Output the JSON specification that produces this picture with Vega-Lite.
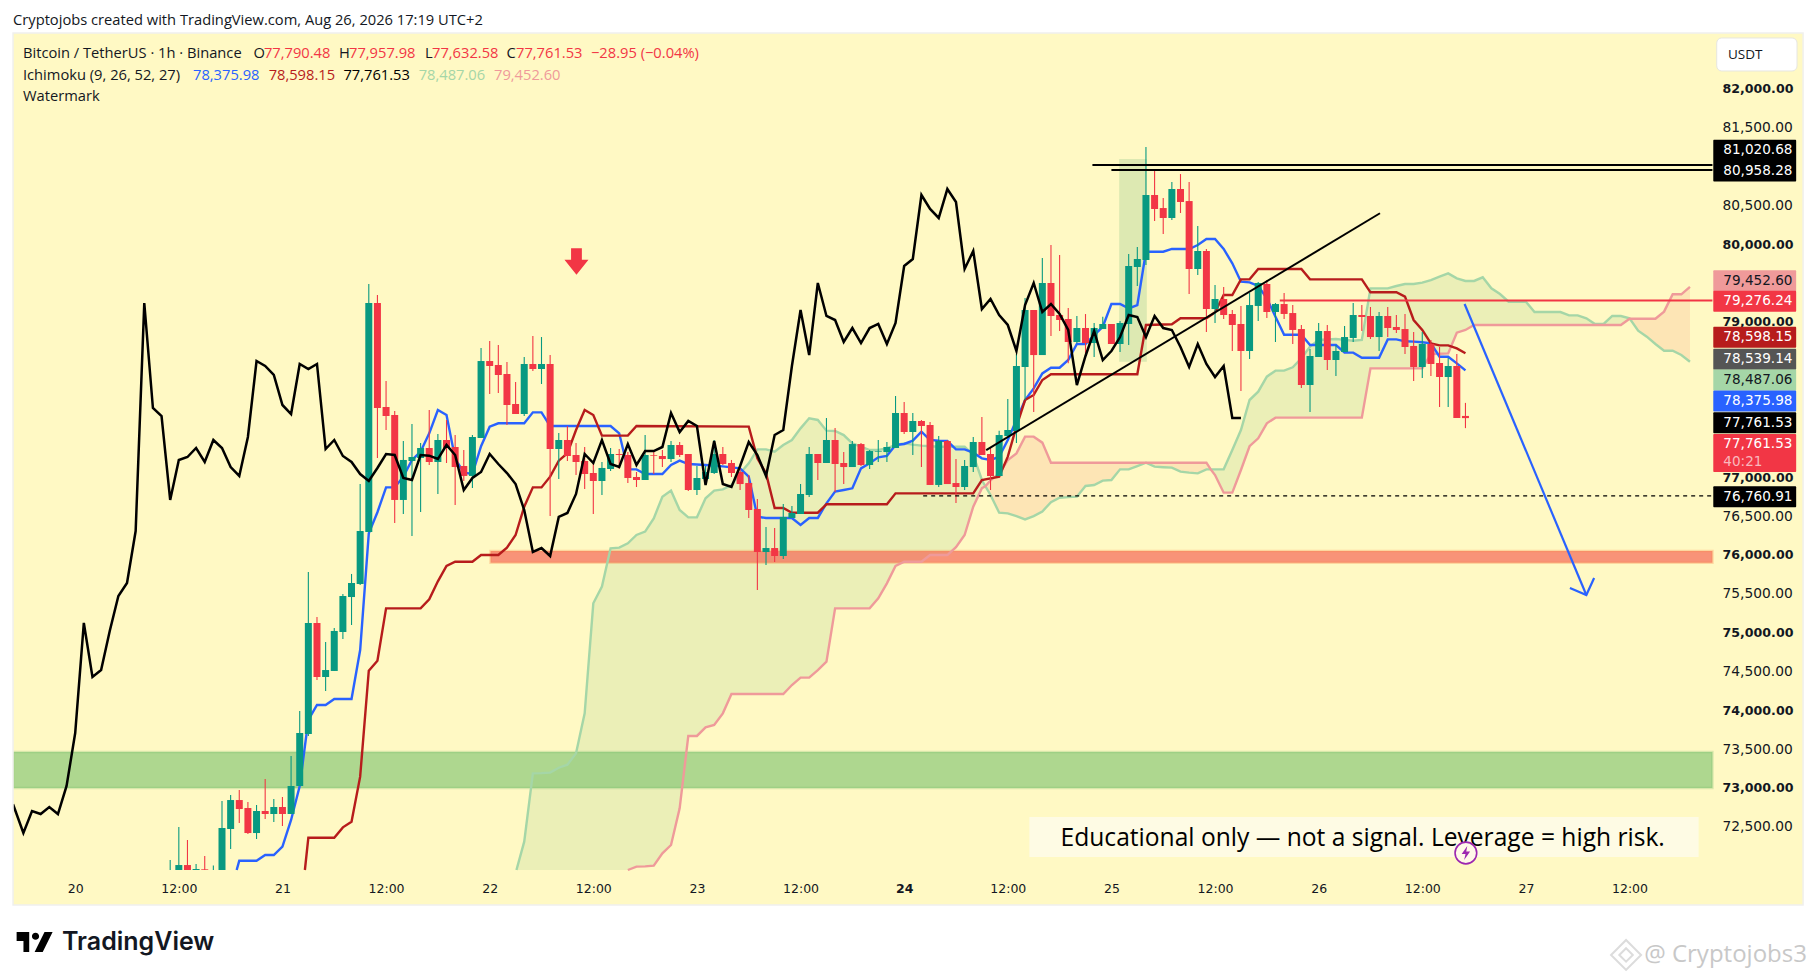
{
"$schema":"https://vega.github.io/schema/vega-lite/v6.json",
"width":1815,"height":980,"padding":0,"autosize":{"type":"none"},
"background":"#ffffff",
"view":{"fill":"#fff9c4","stroke":null},
"resolve":{"scale":{"color":"independent"}},
"config":{"text":{"font":"Open Sans"}},
"datasets":{
"candles":[
{"h":11,"o":71943,"c":71943,"hi":72072,"lo":71943},
{"h":12,"o":71943,"c":72007,"hi":72497,"lo":71943},
{"h":13,"o":72007,"c":71943,"hi":72329,"lo":71943},
{"h":14,"o":71943,"c":71956,"hi":72020,"lo":71943},
{"h":15,"o":71956,"c":71947,"hi":72123,"lo":71943},
{"h":16,"o":71943,"c":71943,"hi":72000,"lo":71943},
{"h":17,"o":71943,"c":72484,"hi":72832,"lo":71943},
{"h":18,"o":72471,"c":72844,"hi":72909,"lo":72213},
{"h":19,"o":72844,"c":72728,"hi":72973,"lo":72548},
{"h":20,"o":72741,"c":72419,"hi":72819,"lo":72407},
{"h":21,"o":72419,"c":72703,"hi":72780,"lo":72342},
{"h":22,"o":72703,"c":72664,"hi":73115,"lo":72600},
{"h":23,"o":72664,"c":72754,"hi":72857,"lo":72561},
{"h":24,"o":72754,"c":72664,"hi":72883,"lo":72510},
{"h":25,"o":72664,"c":73025,"hi":73411,"lo":72664},
{"h":26,"o":73025,"c":73707,"hi":73990,"lo":73025},
{"h":27,"o":73694,"c":75124,"hi":75780,"lo":73669},
{"h":28,"o":75124,"c":74428,"hi":75201,"lo":74390},
{"h":29,"o":74428,"c":74518,"hi":74879,"lo":74248},
{"h":30,"o":74506,"c":75021,"hi":75059,"lo":74506},
{"h":31,"o":75008,"c":75471,"hi":75497,"lo":74918},
{"h":32,"o":75458,"c":75639,"hi":75755,"lo":75098},
{"h":33,"o":75626,"c":76308,"hi":76914,"lo":75613},
{"h":34,"o":76295,"c":79244,"hi":79489,"lo":76295},
{"h":35,"o":79244,"c":77892,"hi":79347,"lo":77248},
{"h":36,"o":77905,"c":77789,"hi":78240,"lo":77609},
{"h":37,"o":77802,"c":76708,"hi":77854,"lo":76411},
{"h":38,"o":76708,"c":77223,"hi":77467,"lo":76527},
{"h":39,"o":77210,"c":77261,"hi":77686,"lo":76244},
{"h":40,"o":77248,"c":77377,"hi":77441,"lo":76553},
{"h":41,"o":77377,"c":77197,"hi":77866,"lo":77158},
{"h":42,"o":77197,"c":77480,"hi":77557,"lo":76785},
{"h":43,"o":77480,"c":77377,"hi":77738,"lo":77184},
{"h":44,"o":77390,"c":77132,"hi":77544,"lo":76643},
{"h":45,"o":77145,"c":77017,"hi":77351,"lo":76952},
{"h":46,"o":77017,"c":77519,"hi":77544,"lo":76862},
{"h":47,"o":77506,"c":78497,"hi":78665,"lo":77506},
{"h":48,"o":78497,"c":78433,"hi":78755,"lo":78072},
{"h":49,"o":78446,"c":78317,"hi":78703,"lo":78085},
{"h":50,"o":78330,"c":77931,"hi":78484,"lo":77673},
{"h":51,"o":77944,"c":77815,"hi":78227,"lo":77815},
{"h":52,"o":77815,"c":78459,"hi":78549,"lo":77789},
{"h":53,"o":78459,"c":78394,"hi":78819,"lo":78369},
{"h":54,"o":78394,"c":78459,"hi":78806,"lo":78201},
{"h":55,"o":78459,"c":77364,"hi":78575,"lo":76502},
{"h":56,"o":77364,"c":77480,"hi":77570,"lo":76978},
{"h":57,"o":77480,"c":77274,"hi":77660,"lo":77210},
{"h":58,"o":77287,"c":77197,"hi":77441,"lo":77029},
{"h":59,"o":77210,"c":77042,"hi":77390,"lo":76849},
{"h":60,"o":77055,"c":76952,"hi":77197,"lo":76527},
{"h":61,"o":76952,"c":77120,"hi":77197,"lo":76772},
{"h":62,"o":77107,"c":77300,"hi":77377,"lo":77081},
{"h":63,"o":77300,"c":77287,"hi":77364,"lo":77107},
{"h":64,"o":77287,"c":76991,"hi":77326,"lo":76926},
{"h":65,"o":77004,"c":76965,"hi":77068,"lo":76875},
{"h":66,"o":76965,"c":77287,"hi":77544,"lo":76965},
{"h":67,"o":77287,"c":77278,"hi":77351,"lo":77042},
{"h":68,"o":77274,"c":77235,"hi":77351,"lo":77132},
{"h":69,"o":77235,"c":77416,"hi":77467,"lo":77197},
{"h":70,"o":77416,"c":77287,"hi":77454,"lo":77261},
{"h":71,"o":77300,"c":76836,"hi":77300,"lo":76823},
{"h":72,"o":76836,"c":76991,"hi":77145,"lo":76772},
{"h":73,"o":76978,"c":77068,"hi":77145,"lo":76901},
{"h":74,"o":77055,"c":77300,"hi":77480,"lo":77042},
{"h":75,"o":77300,"c":77171,"hi":77390,"lo":77158},
{"h":76,"o":77184,"c":77055,"hi":77223,"lo":77004},
{"h":77,"o":77068,"c":76913,"hi":77128,"lo":76836},
{"h":78,"o":76926,"c":76579,"hi":77029,"lo":76476},
{"h":79,"o":76592,"c":76038,"hi":76720,"lo":75549},
{"h":80,"o":76038,"c":76089,"hi":76360,"lo":75870},
{"h":81,"o":76089,"c":75986,"hi":76347,"lo":75909},
{"h":82,"o":75986,"c":76489,"hi":76656,"lo":75948},
{"h":83,"o":76476,"c":76540,"hi":76630,"lo":76476},
{"h":84,"o":76527,"c":76785,"hi":76913,"lo":76527},
{"h":85,"o":76772,"c":77300,"hi":77390,"lo":76746},
{"h":86,"o":77300,"c":77184,"hi":77300,"lo":76965},
{"h":87,"o":77184,"c":77480,"hi":77763,"lo":77184},
{"h":88,"o":77480,"c":77171,"hi":77634,"lo":76810},
{"h":89,"o":77184,"c":77132,"hi":77325,"lo":76913},
{"h":90,"o":77132,"c":77428,"hi":77467,"lo":77132},
{"h":91,"o":77428,"c":77158,"hi":77441,"lo":77145},
{"h":92,"o":77158,"c":77338,"hi":77351,"lo":77107},
{"h":93,"o":77330,"c":77338,"hi":77480,"lo":77197},
{"h":94,"o":77325,"c":77390,"hi":77454,"lo":77197},
{"h":95,"o":77377,"c":77828,"hi":78047,"lo":77377},
{"h":96,"o":77828,"c":77583,"hi":77969,"lo":77557},
{"h":97,"o":77583,"c":77725,"hi":77828,"lo":77287},
{"h":98,"o":77725,"c":77660,"hi":77738,"lo":77132},
{"h":99,"o":77673,"c":76901,"hi":77712,"lo":76901},
{"h":100,"o":76901,"c":77467,"hi":77531,"lo":76875},
{"h":101,"o":77467,"c":76913,"hi":77480,"lo":76913},
{"h":102,"o":76926,"c":76875,"hi":77235,"lo":76669},
{"h":103,"o":76875,"c":77145,"hi":77223,"lo":76836},
{"h":104,"o":77132,"c":77454,"hi":77519,"lo":77068},
{"h":105,"o":77454,"c":77287,"hi":77776,"lo":77287},
{"h":106,"o":77300,"c":77016,"hi":77390,"lo":76836},
{"h":107,"o":77016,"c":77544,"hi":77600,"lo":77016},
{"h":108,"o":77531,"c":77609,"hi":78008,"lo":77531},
{"h":109,"o":77596,"c":78433,"hi":78587,"lo":77441},
{"h":110,"o":78420,"c":79154,"hi":79308,"lo":77995},
{"h":111,"o":79154,"c":78574,"hi":79154,"lo":77841},
{"h":112,"o":78574,"c":79502,"hi":79824,"lo":78574},
{"h":113,"o":79502,"c":79077,"hi":79991,"lo":78819},
{"h":114,"o":79090,"c":79025,"hi":79862,"lo":78883},
{"h":115,"o":79038,"c":78742,"hi":79180,"lo":78467},
{"h":116,"o":78742,"c":78922,"hi":79077,"lo":78725},
{"h":117,"o":78922,"c":78729,"hi":79102,"lo":78587},
{"h":118,"o":78729,"c":78922,"hi":78987,"lo":78549},
{"h":119,"o":78909,"c":78974,"hi":79068,"lo":78909},
{"h":120,"o":78974,"c":78716,"hi":78974,"lo":78716},
{"h":121,"o":78716,"c":78987,"hi":79012,"lo":78613},
{"h":122,"o":78974,"c":79721,"hi":79875,"lo":78703},
{"h":123,"o":79708,"c":79811,"hi":79965,"lo":79463},
{"h":124,"o":79798,"c":80635,"hi":81253,"lo":79733},
{"h":125,"o":80635,"c":80455,"hi":80944,"lo":80300},
{"h":126,"o":80467,"c":80339,"hi":80596,"lo":80133},
{"h":127,"o":80339,"c":80712,"hi":80802,"lo":80313},
{"h":128,"o":80712,"c":80545,"hi":80905,"lo":80403},
{"h":129,"o":80557,"c":79682,"hi":80802,"lo":79360},
{"h":130,"o":79682,"c":79914,"hi":80236,"lo":79605},
{"h":131,"o":79914,"c":79167,"hi":79939,"lo":78871},
{"h":132,"o":79167,"c":79296,"hi":79476,"lo":78987},
{"h":133,"o":79296,"c":79090,"hi":79450,"lo":79038},
{"h":134,"o":79103,"c":78961,"hi":79154,"lo":78626},
{"h":135,"o":78974,"c":78626,"hi":79206,"lo":78111},
{"h":136,"o":78626,"c":79218,"hi":79373,"lo":78523},
{"h":137,"o":79206,"c":79502,"hi":79515,"lo":79012},
{"h":138,"o":79489,"c":79128,"hi":79540,"lo":79051},
{"h":139,"o":79128,"c":79231,"hi":79244,"lo":78742},
{"h":140,"o":79231,"c":79103,"hi":79373,"lo":79038},
{"h":141,"o":79115,"c":78897,"hi":79218,"lo":78716},
{"h":142,"o":78909,"c":78188,"hi":78961,"lo":78150},
{"h":143,"o":78188,"c":78562,"hi":78652,"lo":77841},
{"h":144,"o":78549,"c":78884,"hi":78987,"lo":78549},
{"h":145,"o":78884,"c":78510,"hi":78961,"lo":78382},
{"h":146,"o":78510,"c":78626,"hi":78703,"lo":78304},
{"h":147,"o":78613,"c":78806,"hi":78948,"lo":78613},
{"h":148,"o":78794,"c":79090,"hi":79244,"lo":78742},
{"h":149,"o":79090,"c":79064,"hi":79218,"lo":78884},
{"h":150,"o":79077,"c":78806,"hi":79193,"lo":78781},
{"h":151,"o":78806,"c":79077,"hi":79128,"lo":78626},
{"h":152,"o":79077,"c":78922,"hi":79193,"lo":78806},
{"h":153,"o":78935,"c":78897,"hi":79090,"lo":78858},
{"h":154,"o":78909,"c":78678,"hi":79103,"lo":78588},
{"h":155,"o":78691,"c":78420,"hi":78871,"lo":78240},
{"h":156,"o":78420,"c":78716,"hi":78871,"lo":78278},
{"h":157,"o":78716,"c":78459,"hi":78768,"lo":78304},
{"h":158,"o":78472,"c":78291,"hi":78678,"lo":77905},
{"h":159,"o":78291,"c":78433,"hi":78536,"lo":77905},
{"h":160,"o":78433,"c":77763,"hi":78588,"lo":77763},
{"h":161,"o":77790,"c":77762,"hi":77958,"lo":77633}
],
"chikou":[
{"h":-7.2,"p":72790},{"h":-7,"p":72728},{"h":-6,"p":72419},{"h":-5,"p":72703},{"h":-4,"p":72664},{"h":-3,"p":72754},{"h":-2,"p":72664},{"h":-1,"p":73025},{"h":0,"p":73707},{"h":1,"p":75124},{"h":2,"p":74428},{"h":3,"p":74518},{"h":4,"p":75021},{"h":5,"p":75471},{"h":6,"p":75639},{"h":7,"p":76308},{"h":8,"p":79244},{"h":9,"p":77892},{"h":10,"p":77789},{"h":11,"p":76708},{"h":12,"p":77223},{"h":13,"p":77261},{"h":14,"p":77377},{"h":15,"p":77197},{"h":16,"p":77480},{"h":17,"p":77377},{"h":18,"p":77132},{"h":19,"p":77017},{"h":20,"p":77519},{"h":21,"p":78497},{"h":22,"p":78433},{"h":23,"p":78317},{"h":24,"p":77931},{"h":25,"p":77815},{"h":26,"p":78459},{"h":27,"p":78394},{"h":28,"p":78459},{"h":29,"p":77364},{"h":30,"p":77480},{"h":31,"p":77274},{"h":32,"p":77197},{"h":33,"p":77042},{"h":34,"p":76952},{"h":35,"p":77120},{"h":36,"p":77300},{"h":37,"p":77287},{"h":38,"p":76991},{"h":39,"p":76965},{"h":40,"p":77287},{"h":41,"p":77278},{"h":42,"p":77235},{"h":43,"p":77416},{"h":44,"p":77287},{"h":45,"p":76836},{"h":46,"p":76991},{"h":47,"p":77068},{"h":48,"p":77300},{"h":49,"p":77171},{"h":50,"p":77055},{"h":51,"p":76913},{"h":52,"p":76579},{"h":53,"p":76038},{"h":54,"p":76089},{"h":55,"p":75986},{"h":56,"p":76489},{"h":57,"p":76540},{"h":58,"p":76785},{"h":59,"p":77300},{"h":60,"p":77184},{"h":61,"p":77480},{"h":62,"p":77171},{"h":63,"p":77132},{"h":64,"p":77428},{"h":65,"p":77158},{"h":66,"p":77338},{"h":67,"p":77338},{"h":68,"p":77390},{"h":69,"p":77828},{"h":70,"p":77583},{"h":71,"p":77725},{"h":72,"p":77660},{"h":73,"p":76901},{"h":74,"p":77467},{"h":75,"p":76913},{"h":76,"p":76875},{"h":77,"p":77145},{"h":78,"p":77454},{"h":79,"p":77287},{"h":80,"p":77016},{"h":81,"p":77544},{"h":82,"p":77609},{"h":83,"p":78433},{"h":84,"p":79154},{"h":85,"p":78574},{"h":86,"p":79502},{"h":87,"p":79077},{"h":88,"p":79025},{"h":89,"p":78742},{"h":90,"p":78922},{"h":91,"p":78729},{"h":92,"p":78922},{"h":93,"p":78974},{"h":94,"p":78716},{"h":95,"p":78987},{"h":96,"p":79721},{"h":97,"p":79811},{"h":98,"p":80635},{"h":99,"p":80455},{"h":100,"p":80339},{"h":101,"p":80712},{"h":102,"p":80545},{"h":103,"p":79682},{"h":104,"p":79914},{"h":105,"p":79167},{"h":106,"p":79296},{"h":107,"p":79090},{"h":108,"p":78961},{"h":109,"p":78626},{"h":110,"p":79218},{"h":111,"p":79502},{"h":112,"p":79128},{"h":113,"p":79231},{"h":114,"p":79103},{"h":115,"p":78897},{"h":116,"p":78188},{"h":117,"p":78562},{"h":118,"p":78884},{"h":119,"p":78510},{"h":120,"p":78626},{"h":121,"p":78806},{"h":122,"p":79090},{"h":123,"p":79064},{"h":124,"p":78806},{"h":125,"p":79077},{"h":126,"p":78922},{"h":127,"p":78897},{"h":128,"p":78678},{"h":129,"p":78420},{"h":130,"p":78716},{"h":131,"p":78459},{"h":132,"p":78291},{"h":133,"p":78433},{"h":134,"p":77763},{"h":135,"p":77762}
],
"tenkan":[
{"h":18.7,"p":71943},{"h":19,"p":72063},{"h":21,"p":72063},{"h":22,"p":72136},{"h":23,"p":72136},{"h":24,"p":72244},{"h":25,"p":72587},{"h":26,"p":73025},{"h":27,"p":73875},{"h":28,"p":74068},{"h":29,"p":74068},{"h":30,"p":74145},{"h":32,"p":74145},{"h":33,"p":74776},{"h":34,"p":76278},{"h":35,"p":76550},{"h":36,"p":76870},{"h":37,"p":76870},{"h":38,"p":77008},{"h":39,"p":77222},{"h":40,"p":77330},{"h":41,"p":77566},{"h":42,"p":77866},{"h":43,"p":77802},{"h":44,"p":77240},{"h":45,"p":77060},{"h":46,"p":77042},{"h":47,"p":77400},{"h":48,"p":77652},{"h":49,"p":77695},{"h":52,"p":77695},{"h":53,"p":77836},{"h":54,"p":77836},{"h":55,"p":77660},{"h":62,"p":77660},{"h":63,"p":77566},{"h":64,"p":77102},{"h":65,"p":77102},{"h":66,"p":77042},{"h":68,"p":77042},{"h":69,"p":77158},{"h":70,"p":77214},{"h":71,"p":77171},{"h":73,"p":77158},{"h":75,"p":77140},{"h":77,"p":77115},{"h":78,"p":77008},{"h":79,"p":76493},{"h":80,"p":76476},{"h":83,"p":76476},{"h":84,"p":76385},{"h":85,"p":76476},{"h":86,"p":76476},{"h":87,"p":76665},{"h":88,"p":76815},{"h":89,"p":76836},{"h":90,"p":76858},{"h":91,"p":77115},{"h":92,"p":77180},{"h":93,"p":77257},{"h":94,"p":77274},{"h":95,"p":77416},{"h":96,"p":77429},{"h":97,"p":77472},{"h":98,"p":77587},{"h":99,"p":77480},{"h":100,"p":77472},{"h":101,"p":77467},{"h":102,"p":77360},{"h":103,"p":77360},{"h":104,"p":77317},{"h":105,"p":77244},{"h":106,"p":77222},{"h":107,"p":77265},{"h":108,"p":77480},{"h":109,"p":77738},{"h":110,"p":77995},{"h":111,"p":78145},{"h":112,"p":78338},{"h":113,"p":78411},{"h":114,"p":78411},{"h":115,"p":78510},{"h":116,"p":78716},{"h":117,"p":78716},{"h":118,"p":78832},{"h":119,"p":78939},{"h":120,"p":79231},{"h":121,"p":79231},{"h":122,"p":79175},{"h":123,"p":79218},{"h":124,"p":79905},{"h":126,"p":79905},{"h":127,"p":79940},{"h":129,"p":79940},{"h":130,"p":79991},{"h":131,"p":80068},{"h":132,"p":80068},{"h":133,"p":79940},{"h":134,"p":79755},{"h":135,"p":79519},{"h":136,"p":79510},{"h":137,"p":79463},{"h":138,"p":79304},{"h":139,"p":79068},{"h":140,"p":78836},{"h":142,"p":78836},{"h":143,"p":78703},{"h":146,"p":78703},{"h":147,"p":78605},{"h":148,"p":78605},{"h":149,"p":78540},{"h":151,"p":78540},{"h":152,"p":78776},{"h":153,"p":78776},{"h":154,"p":78751},{"h":155,"p":78747},{"h":156,"p":78738},{"h":157,"p":78725},{"h":158,"p":78553},{"h":159,"p":78553},{"h":160,"p":78467},{"h":161,"p":78376}
],
"kijun":[
{"h":26.6,"p":71943},{"h":27,"p":72359},{"h":30,"p":72359},{"h":31,"p":72492},{"h":32,"p":72565},{"h":33,"p":73145},{"h":34,"p":74510},{"h":35,"p":74638},{"h":36,"p":75312},{"h":40,"p":75312},{"h":41,"p":75428},{"h":42,"p":75660},{"h":43,"p":75858},{"h":44,"p":75913},{"h":46,"p":75913},{"h":47,"p":75999},{"h":49,"p":75999},{"h":50,"p":76094},{"h":51,"p":76257},{"h":52,"p":76622},{"h":53,"p":76870},{"h":54,"p":76870},{"h":55,"p":77008},{"h":56,"p":77214},{"h":57,"p":77309},{"h":58,"p":77609},{"h":59,"p":77866},{"h":60,"p":77802},{"h":61,"p":77536},{"h":64,"p":77536},{"h":65,"p":77660},{"h":78,"p":77652},{"h":79,"p":77244},{"h":80,"p":77051},{"h":81,"p":76604},{"h":82,"p":76604},{"h":83,"p":76544},{"h":86,"p":76544},{"h":87,"p":76652},{"h":94,"p":76652},{"h":95,"p":76793},{"h":104,"p":76793},{"h":105,"p":76965},{"h":107,"p":77008},{"h":108,"p":77265},{"h":109,"p":77652},{"h":110,"p":77995},{"h":111,"p":78060},{"h":112,"p":78253},{"h":113,"p":78326},{"h":123,"p":78326},{"h":124,"p":78961},{"h":127,"p":78970},{"h":128,"p":79047},{"h":131,"p":79047},{"h":132,"p":79124},{"h":133,"p":79347},{"h":134,"p":79347},{"h":135,"p":79549},{"h":136,"p":79549},{"h":137,"p":79682},{"h":142,"p":79682},{"h":143,"p":79549},{"h":149,"p":79549},{"h":150,"p":79382},{"h":153,"p":79382},{"h":154,"p":79326},{"h":155,"p":79025},{"h":156,"p":78897},{"h":157,"p":78725},{"h":158,"p":78699},{"h":159,"p":78699},{"h":160,"p":78660},{"h":161,"p":78598}
],
"cloud":[
{"h":51.1,"p":71943,"p2":71943,"seg":1},{"h":52,"p":72308,"p2":71943,"seg":1},{"h":53,"p":73188,"p2":71943,"seg":1},{"h":54,"p":73190,"p2":71943,"seg":1},{"h":55,"p":73197,"p2":71943,"seg":1},{"h":56,"p":73260,"p2":71943,"seg":1},{"h":57,"p":73300,"p2":71943,"seg":1},{"h":58,"p":73445,"p2":71943,"seg":1},{"h":59,"p":73960,"p2":71943,"seg":1},{"h":60,"p":75377,"p2":71943,"seg":1},{"h":61,"p":75592,"p2":71943,"seg":1},{"h":62,"p":76085,"p2":71943,"seg":1},{"h":63,"p":76094,"p2":71943,"seg":1},{"h":64,"p":76150,"p2":71943,"seg":1},{"h":65,"p":76257,"p2":71986,"seg":1},{"h":66,"p":76300,"p2":71990,"seg":1},{"h":67,"p":76471,"p2":71999,"seg":1},{"h":68,"p":76750,"p2":72158,"seg":1},{"h":69,"p":76828,"p2":72265,"seg":1},{"h":70,"p":76579,"p2":72737,"seg":1},{"h":71,"p":76484,"p2":73669,"seg":1},{"h":72,"p":76484,"p2":73669,"seg":1},{"h":73,"p":76729,"p2":73780,"seg":1},{"h":74,"p":76828,"p2":73810,"seg":1},{"h":75,"p":76845,"p2":73960,"seg":1},{"h":76,"p":76900,"p2":74209,"seg":1},{"h":77,"p":77051,"p2":74209,"seg":1},{"h":78,"p":77180,"p2":74209,"seg":1},{"h":79,"p":77360,"p2":74209,"seg":1},{"h":80,"p":77360,"p2":74209,"seg":1},{"h":81,"p":77330,"p2":74209,"seg":1},{"h":82,"p":77416,"p2":74209,"seg":1},{"h":83,"p":77480,"p2":74325,"seg":1},{"h":84,"p":77630,"p2":74420,"seg":1},{"h":85,"p":77759,"p2":74420,"seg":1},{"h":86,"p":77738,"p2":74518,"seg":1},{"h":87,"p":77600,"p2":74626,"seg":1},{"h":88,"p":77596,"p2":75312,"seg":1},{"h":89,"p":77544,"p2":75312,"seg":1},{"h":90,"p":77437,"p2":75312,"seg":1},{"h":91,"p":77394,"p2":75312,"seg":1},{"h":92,"p":77351,"p2":75312,"seg":1},{"h":93,"p":77351,"p2":75441,"seg":1},{"h":94,"p":77373,"p2":75634,"seg":1},{"h":95,"p":77416,"p2":75858,"seg":1},{"h":96,"p":77437,"p2":75913,"seg":1},{"h":97,"p":77420,"p2":75913,"seg":1},{"h":98,"p":77407,"p2":75913,"seg":1},{"h":99,"p":77400,"p2":75999,"seg":1},{"h":100,"p":77394,"p2":75999,"seg":1},{"h":101,"p":77394,"p2":75999,"seg":1},{"h":102,"p":77394,"p2":76100,"seg":1},{"h":103,"p":77394,"p2":76257,"seg":1},{"h":104,"p":77287,"p2":76622,"seg":1},{"h":105,"p":76965,"p2":76860,"seg":1},{"h":105.4,"p":76885,"p2":76885,"seg":1},
{"h":105.4,"p":76885,"p2":76885,"seg":2},{"h":106,"p":76772,"p2":76960,"seg":2},{"h":107,"p":76544,"p2":77050,"seg":2},{"h":108,"p":76536,"p2":77222,"seg":2},{"h":109,"p":76500,"p2":77308,"seg":2},{"h":110,"p":76458,"p2":77523,"seg":2},{"h":111,"p":76501,"p2":77523,"seg":2},{"h":112,"p":76560,"p2":77446,"seg":2},{"h":113,"p":76680,"p2":77188,"seg":2},{"h":114,"p":76737,"p2":77188,"seg":2},{"h":115,"p":76745,"p2":77188,"seg":2},{"h":116,"p":76750,"p2":77188,"seg":2},{"h":117,"p":76888,"p2":77188,"seg":2},{"h":118,"p":76901,"p2":77188,"seg":2},{"h":119,"p":76957,"p2":77188,"seg":2},{"h":120,"p":76965,"p2":77188,"seg":2},{"h":121,"p":77102,"p2":77188,"seg":2},{"h":122,"p":77102,"p2":77188,"seg":2},{"h":123,"p":77145,"p2":77188,"seg":2},{"h":124,"p":77188,"p2":77188,"seg":2},{"h":125,"p":77137,"p2":77188,"seg":2},{"h":126,"p":77130,"p2":77188,"seg":2},{"h":127,"p":77124,"p2":77188,"seg":2},{"h":128,"p":77072,"p2":77188,"seg":2},{"h":129,"p":77060,"p2":77188,"seg":2},{"h":130,"p":77051,"p2":77188,"seg":2},{"h":131,"p":77102,"p2":77188,"seg":2},{"h":131.5,"p":77102,"p2":77102,"seg":2},
{"h":131.5,"p":77102,"p2":77102,"seg":3},{"h":132,"p":77102,"p2":77029,"seg":3},{"h":133,"p":77102,"p2":76802,"seg":3},{"h":134,"p":77351,"p2":76802,"seg":3},{"h":135,"p":77609,"p2":77094,"seg":3},{"h":136,"p":77995,"p2":77400,"seg":3},{"h":137,"p":78102,"p2":77502,"seg":3},{"h":138,"p":78296,"p2":77695,"seg":3},{"h":139,"p":78373,"p2":77768,"seg":3},{"h":140,"p":78373,"p2":77768,"seg":3},{"h":141,"p":78416,"p2":77768,"seg":3},{"h":142,"p":78532,"p2":77768,"seg":3},{"h":143,"p":78682,"p2":77768,"seg":3},{"h":144,"p":78768,"p2":77768,"seg":3},{"h":145,"p":78775,"p2":77768,"seg":3},{"h":146,"p":78781,"p2":77768,"seg":3},{"h":147,"p":78770,"p2":77768,"seg":3},{"h":148,"p":78759,"p2":77768,"seg":3},{"h":149,"p":78768,"p2":77768,"seg":3},{"h":150,"p":79433,"p2":78403,"seg":3},{"h":151,"p":79433,"p2":78403,"seg":3},{"h":152,"p":79433,"p2":78403,"seg":3},{"h":153,"p":79463,"p2":78403,"seg":3},{"h":154,"p":79489,"p2":78403,"seg":3},{"h":155,"p":79489,"p2":78403,"seg":3},{"h":156,"p":79506,"p2":78403,"seg":3},{"h":157,"p":79540,"p2":78588,"seg":3},{"h":158,"p":79583,"p2":78590,"seg":3},{"h":159,"p":79626,"p2":78596,"seg":3},{"h":160,"p":79562,"p2":78862,"seg":3},{"h":161,"p":79528,"p2":78897,"seg":3},{"h":162,"p":79528,"p2":78961,"seg":3},{"h":163,"p":79575,"p2":78961,"seg":3},{"h":164,"p":79433,"p2":78961,"seg":3},{"h":165,"p":79360,"p2":78961,"seg":3},{"h":166,"p":79261,"p2":78961,"seg":3},{"h":167,"p":79261,"p2":78961,"seg":3},{"h":168,"p":79261,"p2":78961,"seg":3},{"h":169,"p":79128,"p2":78961,"seg":3},{"h":170,"p":79128,"p2":78961,"seg":3},{"h":171,"p":79128,"p2":78961,"seg":3},{"h":172,"p":79128,"p2":78961,"seg":3},{"h":173,"p":79085,"p2":78961,"seg":3},{"h":174,"p":79085,"p2":78961,"seg":3},{"h":175,"p":79047,"p2":78961,"seg":3},{"h":176,"p":78974,"p2":78961,"seg":3},{"h":177,"p":78974,"p2":78961,"seg":3},{"h":178,"p":79077,"p2":78961,"seg":3},{"h":179,"p":79077,"p2":78961,"seg":3},{"h":180,"p":79047,"p2":79042,"seg":3},
{"h":180,"p":79047,"p2":79042,"seg":4},{"h":181,"p":78888,"p2":79042,"seg":4},{"h":182,"p":78811,"p2":79042,"seg":4},{"h":183,"p":78716,"p2":79042,"seg":4},{"h":184,"p":78630,"p2":79133,"seg":4},{"h":185,"p":78630,"p2":79356,"seg":4},{"h":186,"p":78575,"p2":79356,"seg":4},{"h":187,"p":78487,"p2":79452,"seg":4}
],
"drawings":[
{"id":"high1","h":117.8,"p":81021},{"id":"high1","h":189.6,"p":81021},
{"id":"high2","h":120,"p":80958},{"id":"high2","h":189.6,"p":80958},
{"id":"trend","h":105.5,"p":77351},{"id":"trend","h":151.1,"p":80400}
],
"arrow":[
{"id":"shaft","h":160.9,"p":79231},{"id":"shaft","h":175,"p":75484},
{"id":"head","h":173.1,"p":75574},{"id":"head","h":175,"p":75484},{"id":"head","h":175.9,"p":75703}
],
"tags":[
{"h":189.7,"h2":199.3,"p":81346,"p2":80809,"k":"black"},
{"h":189.7,"h2":199.3,"p":79666,"p2":79396,"k":"pink"},
{"h":189.7,"h2":199.3,"p":79401,"p2":79131,"k":"red"},
{"h":189.7,"h2":199.3,"p":78938,"p2":78668,"k":"darkred"},
{"h":189.7,"h2":199.3,"p":78654,"p2":78384,"k":"grey"},
{"h":189.7,"h2":199.3,"p":78388,"p2":78118,"k":"green"},
{"h":189.7,"h2":199.3,"p":78117,"p2":77847,"k":"blue"},
{"h":189.7,"h2":199.3,"p":77838,"p2":77568,"k":"black"},
{"h":189.7,"h2":199.3,"p":77557,"p2":77068,"k":"red"},
{"h":189.7,"h2":199.3,"p":76885,"p2":76615,"k":"black"}
],
"taglabels":[
{"h":189.7,"p":81211,"t":"81,020.68","k":"light"},
{"h":189.7,"p":80944,"t":"80,958.28","k":"light"},
{"h":189.7,"p":79531,"t":"79,452.60","k":"dark"},
{"h":189.7,"p":79266,"t":"79,276.24","k":"light"},
{"h":189.7,"p":78803,"t":"78,598.15","k":"light"},
{"h":189.7,"p":78519,"t":"78,539.14","k":"light"},
{"h":189.7,"p":78253,"t":"78,487.06","k":"dark"},
{"h":189.7,"p":77982,"t":"78,375.98","k":"light"},
{"h":189.7,"p":77703,"t":"77,761.53","k":"light"},
{"h":189.7,"p":77429,"t":"77,761.53","k":"light"},
{"h":189.7,"p":77201,"t":"40:21","k":"faint"},
{"h":189.7,"p":76750,"t":"76,760.91","k":"light"}
],
"strips":[
{"h":-8.709,"h2":201.48,"p":83146,"p2":82721},
{"h":-8.709,"h2":201.48,"p":71492,"p2":70526.5},
{"h":-8.709,"h2":-7.2,"p":83146,"p2":70526.5},
{"h":200.1,"h2":201.48,"p":83146,"p2":70526.5}
],
"legendtext":[
{"h":-7.2,"p":82873,"t":"Cryptojobs created with TradingView.com, Aug 26, 2026 17:19 UTC+2","k":"dark"},
{"h":-6.05,"p":82445,"t":"Bitcoin / TetherUS · 1h · Binance","k":"dark"},
{"h":20.65,"p":82445,"t":"O","k":"dark"},
{"h":21.86,"p":82445,"t":"77,790.48","k":"red"},
{"h":30.55,"p":82445,"t":"H","k":"dark"},
{"h":31.71,"p":82445,"t":"77,957.98","k":"red"},
{"h":40.51,"p":82445,"t":"L","k":"dark"},
{"h":41.32,"p":82445,"t":"77,632.58","k":"red"},
{"h":49.95,"p":82445,"t":"C","k":"dark"},
{"h":51.05,"p":82445,"t":"77,761.53","k":"red"},
{"h":59.73,"p":82445,"t":"−28.95 (−0.04%)","k":"red"},
{"h":-6.05,"p":82169,"t":"Ichimoku (9, 26, 52, 27)","k":"dark"},
{"h":13.64,"p":82169,"t":"78,375.98","k":"blue"},
{"h":22.4,"p":82169,"t":"78,598.15","k":"darkred"},
{"h":31.06,"p":82169,"t":"77,761.53","k":"black"},
{"h":39.78,"p":82169,"t":"78,487.06","k":"green"},
{"h":48.5,"p":82169,"t":"79,452.60","k":"pink"},
{"h":-6.05,"p":81895,"t":"Watermark","k":"dark"}
]
},
"encoding":{
"x":{"field":"h","type":"quantitative","scale":{"domain":[-8.709,201.48],"nice":false,"zero":false,"padding":0},
"axis":{"values":[0,12,24,36,48,60,72,84,96,108,120,132,144,156,168,180],"orient":"bottom","offset":-92,"title":null,"grid":false,"domain":false,"ticks":false,"labelPadding":0,"labelBaseline":"middle","labelFont":"DejaVu Sans","labelFontSize":12.5,"labelColor":"#131722","labelAngle":0,"labelFlush":false,"labelOverlap":false,
"labelExpr":"datum.value % 24 == 0 ? '' + (20 + datum.value / 24) : '12:00'",
"labelFontWeight":{"condition":{"test":"datum.value == 96","value":"bold"},"value":"normal"}}},
"y":{"field":"p","type":"quantitative","scale":{"domain":[70526.5,83146],"nice":false,"zero":false},
"axis":{"values":[72500,73000,73500,74000,74500,75000,75500,76000,76500,77000,79000,80000,80500,81500,82000],"orient":"right","offset":-93,"title":null,"grid":false,"domain":false,"ticks":false,"labelPadding":0,"labelAlign":"left","labelFont":"DejaVu Sans","labelColor":"#131722","format":",.2f","labelOverlap":false,"labelFlush":false,
"labelFontSize":{"condition":{"test":"datum.value % 1000 == 0","value":12.6},"value":13.8},
"labelFontWeight":{"condition":{"test":"datum.value % 1000 == 0","value":"bold"},"value":"normal"}}}
},
"layer":[
{"data":{"name":"cloud"},"mark":{"type":"area","interpolate":"linear"},
"encoding":{"y2":{"field":"p2"},"color":{"field":"seg","type":"nominal","scale":{"domain":[1,2,3,4],"range":["#ebefb7","#fde5b5","#ebefb7","#fde5b5"]},"legend":null}}},
{"data":{"values":[{"h":120.9,"h2":124.1,"p":81098,"p2":78488}]},"mark":{"type":"rect","color":"#dde9b2"},
"encoding":{"x2":{"field":"h2"},"y2":{"field":"p2"}}},
{"data":{"values":[{"h":-7.2,"h2":189.6,"p":73463,"p2":72999}]},"mark":{"type":"rect","fill":"#78c06d","fillOpacity":0.6,"stroke":"#78c06d","strokeOpacity":0.28,"strokeWidth":2.5},
"encoding":{"x2":{"field":"h2"},"y2":{"field":"p2"}}},
{"data":{"values":[{"h":48.1,"h2":189.6,"p":76051,"p2":75900}]},"mark":{"type":"rect","fill":"#f55c50","fillOpacity":0.65,"stroke":"#f8884a","strokeOpacity":0.3,"strokeWidth":2.5},
"encoding":{"x2":{"field":"h2"},"y2":{"field":"p2"}}},
{"data":{"name":"cloud"},"mark":{"type":"line","color":"#a5d6a7","strokeWidth":2.4},"encoding":{}},
{"data":{"name":"cloud"},"transform":[{"filter":{"field":"h","gte":64}},{"fold":["p2"],"as":["k","p"]}],"mark":{"type":"line","color":"#ef9a9a","strokeWidth":2.4},"encoding":{}},
{"data":{"name":"tenkan"},"mark":{"type":"line","color":"#2962ff","strokeWidth":2.4},"encoding":{}},
{"data":{"name":"kijun"},"mark":{"type":"line","color":"#b71c1c","strokeWidth":2.4},"encoding":{}},
{"data":{"name":"candles"},"transform":[{"fold":["hi","lo"],"as":["k","p"]}],"mark":{"type":"line","strokeWidth":1.1},
"encoding":{"detail":{"field":"h"},"color":{"condition":{"test":"datum.c >= datum.o","value":"#089981"},"value":"#f23645"}}},
{"data":{"name":"candles"},"transform":[{"fold":["o","c"],"as":["k","p"]}],"mark":{"type":"line","strokeWidth":7},
"encoding":{"detail":{"field":"h"},"color":{"condition":{"test":"datum.c >= datum.o","value":"#089981"},"value":"#f23645"}}},
{"data":{"name":"chikou"},"mark":{"type":"line","color":"#000000","strokeWidth":2.5},"encoding":{}},
{"data":{"name":"drawings"},"mark":{"type":"line","color":"#000000","strokeWidth":2},"encoding":{"detail":{"field":"id"}}},
{"data":{"values":[{"h":139.5,"p":79276},{"h":189.6,"p":79276}]},"mark":{"type":"line","color":"#f23645","strokeWidth":2},"encoding":{}},
{"data":{"values":[{"h":98.2,"p":76761},{"h":189.6,"p":76761}]},"mark":{"type":"line","color":"#000000","strokeWidth":1.3,"strokeDash":[4,4]},"encoding":{}},
{"data":{"name":"arrow"},"mark":{"type":"line","color":"#2962ff","strokeWidth":2.2},"encoding":{"detail":{"field":"id"}}},
{"data":{"values":[{"h":58.05,"p":79779}]},"mark":{"type":"point","shape":"M-.45 -1.1H.45V-.15H1L0 1.1L-1 -.15H-.45Z","filled":true,"opacity":1,"size":576,"color":"#f23645"},"encoding":{}},
{"data":{"values":[{"h":110.5,"h2":188,"p":72625,"p2":72110}]},"mark":{"type":"rect","color":"#fefbe4"},"encoding":{"x2":{"field":"h2"},"y2":{"field":"p2"}}},
{"data":{"values":[{"h":149.1,"p":72338,"t":"Educational only — not a signal. Leverage  = high risk."}]},
"mark":{"type":"text","font":"Open Sans","fontSize":24.6,"align":"center","baseline":"middle","color":"#000000"},"encoding":{"text":{"field":"t"}}},
{"data":{"values":[{"h":161.05,"p":72162}]},"mark":{"type":"point","shape":"circle","filled":true,"size":470,"fill":"#fff9e8","stroke":"#9c27b0","strokeWidth":1.6,"opacity":1},"encoding":{}},
{"data":{"values":[{"h":161.05,"p":72162}]},"mark":{"type":"point","shape":"M.2 -1L-.6 .15H-.05L-.25 1L.6 -.2H.05Z","filled":true,"size":196,"color":"#9c27b0","opacity":1},"encoding":{}},
{"data":{"name":"tags"},"mark":{"type":"rect","cornerRadius":1},
"encoding":{"x2":{"field":"h2"},"y2":{"field":"p2"},"color":{"field":"k","type":"nominal","legend":null,"scale":{"domain":["black","pink","red","darkred","grey","green","blue"],"range":["#000000","#ef9a9a","#f23645","#b71c1c","#555555","#a5d6a7","#2962ff"]}}}},
{"data":{"name":"taglabels"},"mark":{"type":"text","font":"DejaVu Sans","fontSize":13.6,"align":"left","baseline":"middle","dx":10},
"encoding":{"text":{"field":"t"},"color":{"field":"k","type":"nominal","legend":null,"scale":{"domain":["light","dark","faint"],"range":["#ffffff","#131722","#f9b8bd"]}}}},
{"data":{"name":"strips"},"mark":{"type":"rect","color":"#ffffff"},"encoding":{"x2":{"field":"h2"},"y2":{"field":"p2"}}},
{"data":{"values":[{"h":-7.2,"h2":200.1,"p":82721,"p2":71492}]},"mark":{"type":"rect","fill":null,"stroke":"#f0f0ee","strokeWidth":1.5},"encoding":{"x2":{"field":"h2"},"y2":{"field":"p2"}}},
{"data":{"values":[{"h":190.1,"h2":199.4,"p":82657,"p2":82232}]},"mark":{"type":"rect","fill":"#ffffff","stroke":"#e6e6e0","cornerRadius":5},"encoding":{"x2":{"field":"h2"},"y2":{"field":"p2"}}},
{"data":{"values":[{"h":191.4,"p":82438,"t":"USDT"}]},"mark":{"type":"text","font":"Open Sans","fontSize":13.5,"align":"left","baseline":"middle","color":"#131722"},"encoding":{"text":{"field":"t"}}},
{"data":{"name":"legendtext"},"mark":{"type":"text","font":"Open Sans","fontSize":14.7,"align":"left","baseline":"middle"},
"encoding":{"text":{"field":"t"},"color":{"field":"k","type":"nominal","legend":null,"scale":{"domain":["dark","red","blue","darkred","black","green","pink"],"range":["#131722","#f23645","#2962ff","#b71c1c","#000000","#a5d6a7","#ef9a9a"]}}}},
{"data":{"values":[{"h":-4.7,"p":71016}]},"mark":{"type":"point","shape":"M-1 -.55H-.3V.55H-.62V-.05H-1ZM.05 -.52A.2 .2 0 1 0 .051 -.12A.2 .2 0 1 0 .05 -.52ZM.55 -.55H1L.45 .55H0Z","filled":true,"size":1296,"color":"#000000","opacity":1},"encoding":{}},
{"data":{"values":[{"h":-1.53,"p":71016,"t":"TradingView"}]},"mark":{"type":"text","font":"Inter","fontSize":25,"fontWeight":600,"align":"left","baseline":"middle","color":"#131722"},"encoding":{"text":{"field":"t"}}},
{"data":{"values":[{"h":179.6,"p":70849}]},"mark":{"type":"point","shape":"M0 -1L1 0L0 1L-1 0ZM0 -.45L.45 0L0 .45L-.45 0Z","filled":false,"size":900,"stroke":"#dcdcdc","strokeWidth":2,"opacity":1},"encoding":{}},
{"data":{"values":[{"h":181.7,"p":70849,"t":"@ Cryptojobs3"}]},"mark":{"type":"text","font":"Open Sans","fontSize":24,"align":"left","baseline":"middle","color":"#c8c8c8"},"encoding":{"text":{"field":"t"}}}
]
}
